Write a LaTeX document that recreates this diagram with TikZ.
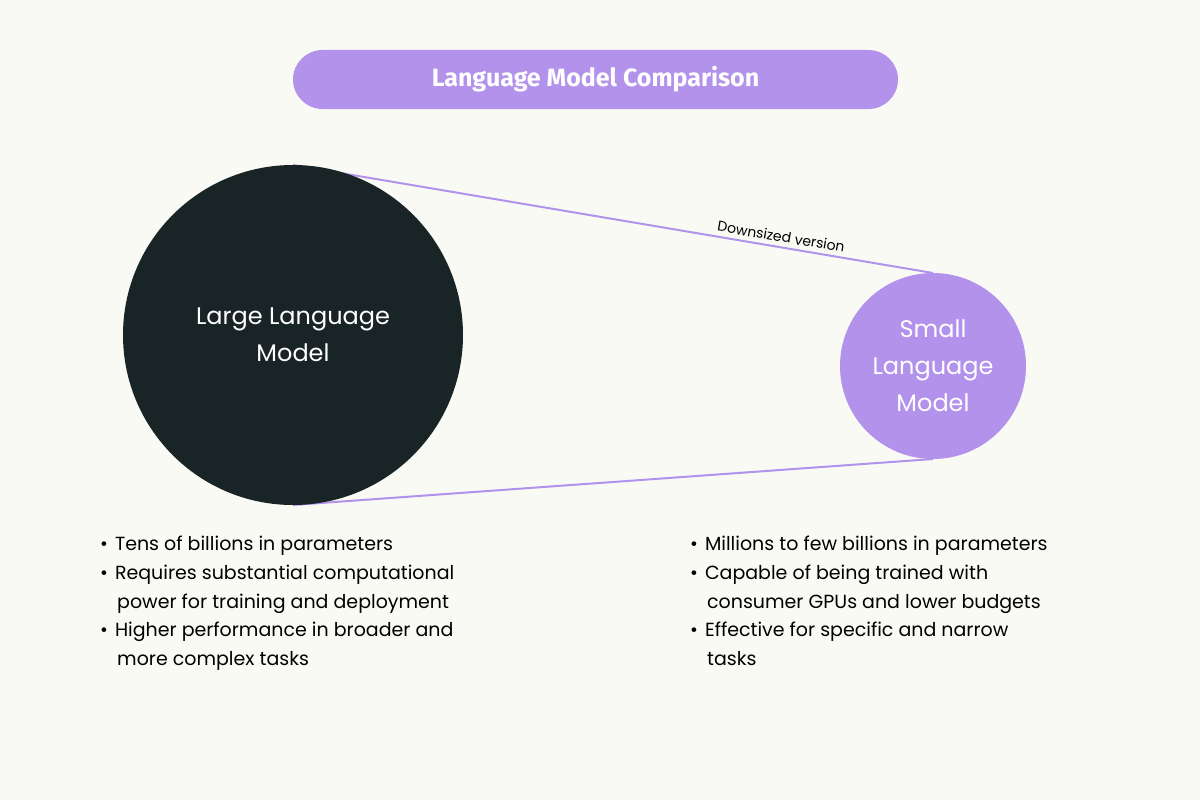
\documentclass[tikz,border=0pt]{standalone}
\usepackage{fontspec}
\setmainfont{Poppins}
\newfontfamily\titlefont{Fira Sans}
\definecolor{bg}{HTML}{FAFAF5}
\definecolor{lav}{HTML}{B392EC}
\definecolor{dark}{HTML}{182426}
\begin{document}
\begin{tikzpicture}[x=1pt,y=-1pt,
  bul/.style={anchor=north west,align=left,font=\fontsize{19}{28.7}\selectfont,text=black,inner sep=0pt}]
\fill[bg] (0,0) rectangle (1200,800);
\useasboundingbox (0,0) rectangle (1200,800);
\node[fill=lav,rounded corners=29.5pt,minimum width=605pt,minimum height=59pt,text=white,font=\titlefont\bfseries\fontsize{25}{30}\selectfont] (title) at (595.5,79.5) {Language Model Comparison};
\coordinate (lt) at (293,165); \coordinate (lb) at (293,505);
\coordinate (st) at (933,273); \coordinate (sb) at (933,459);
\draw[lav,line width=2pt] (lt) -- node[pos=0.76,above=1pt,sloped,text=black,font=\fontsize{14}{16}\selectfont]{Downsized version} (st);
\draw[lav,line width=2pt] (lb) -- (sb);
\node[circle,fill=dark,minimum size=340pt,text=white,align=center,font=\fontsize{24}{37}\selectfont] (llm) at (293,335) {Large Language\\Model};
\node[circle,fill=lav,minimum size=186pt,text=white,align=center,font=\fontsize{24}{37}\selectfont] (slm) at (933,366) {Small\\Language\\Model};
\node[bul] (lbul) at (100,536) {\textbullet\hspace{7pt}Tens of billions in parameters\\
\textbullet\hspace{7pt}Requires substantial computational\\\hspace{17pt}power for training and deployment\\
\textbullet\hspace{7pt}Higher performance in broader and\\\hspace{17pt}more complex tasks};
\node[bul] (rbul) at (690,536) {\textbullet\hspace{7pt}Millions to few billions in parameters\\
\textbullet\hspace{7pt}Capable of being trained with\\\hspace{17pt}consumer GPUs and lower budgets\\
\textbullet\hspace{7pt}Effective for specific and narrow\\\hspace{17pt}tasks};
\end{tikzpicture}
\end{document}
